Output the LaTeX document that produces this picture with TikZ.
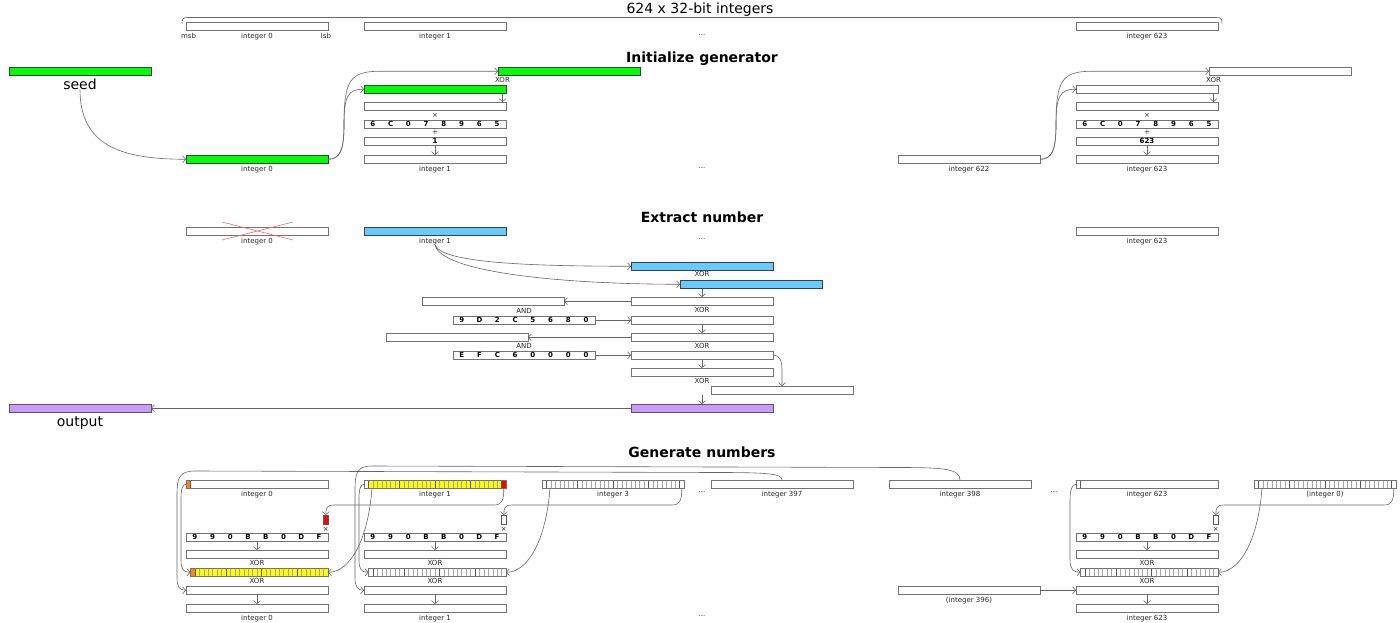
\documentclass[tikz,border=0pt]{standalone}
\usepackage{fontspec}
\setmainfont{DejaVu Sans}
\usetikzlibrary{arrows.meta}
\definecolor{cgreen}{RGB}{0,255,0}
\definecolor{cblue}{RGB}{102,204,255}
\definecolor{cpurple}{RGB}{204,153,255}
\definecolor{cyellow}{RGB}{255,255,0}
\definecolor{corange}{RGB}{255,136,0}
\definecolor{cred}{RGB}{255,0,0}
\newcommand\hexrow[8]{\makebox[17.75pt]{#1}\makebox[17.75pt]{#2}\makebox[17.75pt]{#3}\makebox[17.75pt]{#4}\makebox[17.75pt]{#5}\makebox[17.75pt]{#6}\makebox[17.75pt]{#7}\makebox[17.75pt]{#8}}
\newcommand\bitrow[4]{%
  \foreach \k in {#3} \draw[bitthin] ({#1+\k*4.4375},#2) -- ({#1+\k*4.4375},{#2+8.5});
  \foreach \k in {#4} \draw[bitmajor] ({#1+\k*4.4375},#2) -- ({#1+\k*4.4375},{#2+8.5});}
\begin{document}
\begin{tikzpicture}[x=1pt,y=-1pt,
  bar/.style={rectangle, draw=black!55, line width=0.7pt, minimum width=142pt, minimum height=8.5pt, inner sep=0pt, outer sep=0pt, anchor=north west},
  gbar/.style={bar, draw=black!75, fill=cgreen},
  bbar/.style={bar, draw=black!75, fill=cblue},
  pbar/.style={bar, draw=black!65, fill=cpurple},
  sbar/.style={bar, minimum width=137.5625pt},
  hexbar/.style={bar, font=\fontsize{7}{8}\selectfont\bfseries},
  bitbox/.style={rectangle, draw=black!65, line width=0.6pt, minimum width=4.4375pt, minimum height=9pt, inner sep=0pt, outer sep=0pt, anchor=north east},
  lbl/.style={font=\fontsize{7}{8}\selectfont, inner sep=0pt, anchor=base, text=black!85},
  big/.style={font=\fontsize{14}{16}\selectfont, inner sep=0pt, anchor=base},
  ttl/.style={font=\fontsize{14}{16}\selectfont\bfseries, inner sep=0pt, anchor=base},
  arr/.style={draw=black!60, line width=0.6pt, -{Straight Barb[length=3pt,width=7pt]}},
  bitthin/.style={draw=black!35, line width=0.35pt},
  bitmajor/.style={draw=black!65, line width=0.6pt},
  brace/.style={draw=black!60, line width=0.6pt},
  cross/.style={draw=red!60, line width=0.6pt}]
\useasboundingbox (0,0) rectangle (1400,622);

% ---------------- top: memory layout
\node[big] (ttop) at (700,13) {624 x 32-bit integers};
\draw[brace] (182,23.5) .. controls (182,18.5) and (183,17.5) .. (188,17.5) -- (1216,17.5) .. controls (1221,17.5) and (1222,18.5) .. (1222,23.5);
\node[bar] (t0) at (186,22) {};
\node[bar] (t1) at (364,22) {};
\node[bar] (t623) at (1076,22) {};
\node[lbl] (t0l) at (257,38) {integer 0};
\node[lbl] (msb) at (188.5,38) {msb};
\node[lbl] (lsb) at (326,38) {lsb};
\node[lbl] (t1l) at (435,38) {integer 1};
\node[lbl] (tdots) at (702,35) {...};
\node[lbl] (t623l) at (1147,38) {integer 623};

% ---------------- initialize generator
\node[ttl] (tinit) at (702,62) {Initialize generator};
\node[gbar] (seed) at (9,67) {};
\node[big] (seedl) at (80,89) {seed};
\node[gbar] (xorL) at (498,67) {};
\node[lbl] (xorLl) at (502.5,82) {XOR};
\node[gbar] (g1) at (364,85) {};
\node[bar] (g2) at (364,102) {};
\node[lbl] (mulL) at (435,117.5) {×};
\node[hexbar] (cL) at (364,120) {\hexrow6C078965};
\node[lbl] (addL) at (435,134.5) {+};
\node[hexbar] (oneL) at (364,137) {1};
\node[bar] (i1) at (364,155) {};
\node[lbl] (i1l) at (435,171) {integer 1};
\node[gbar] (i0) at (186,155) {};
\node[lbl] (i0l) at (257,171) {integer 0};
\node[lbl] (idots) at (702,168) {...};
\node[bar] (i622) at (898,155) {};
\node[lbl] (i622l) at (969,171) {integer 622};
\node[bar] (xorR) at (1209,67) {};
\node[lbl] (xorRl) at (1213.5,82) {XOR};
\node[bar] (r1) at (1076,85) {};
\node[bar] (r2) at (1076,102) {};
\node[lbl] (mulR) at (1147,117.5) {×};
\node[hexbar] (rc) at (1076,120) {\hexrow6C078965};
\node[lbl] (addR) at (1147,134.5) {+};
\node[hexbar] (r623) at (1076,137) {623};
\node[bar] (ri) at (1076,155) {};
\node[lbl] (ril) at (1147,171) {integer 623};

\draw[arr] (seedl.south) .. controls (80,145) and (120,159.25) .. (i0.west);
\draw[arr] (i0.east) .. controls (340,159.25) and (344,150) .. (344,125) .. controls (344,96) and (348,89.25) .. (g1.west);
\draw[arr] (i0.east) .. controls (340,159.25) and (344,150) .. (344,125) .. controls (344,80) and (350,71.25) .. (380,71.25) -- (xorL.west);
\draw[arr] (g1.south -| xorLl.south) -- (g2.north -| xorLl.south);
\draw[arr] (oneL.south) -- (i1.north);
\draw[arr] (i622.east) .. controls (1052,159.25) and (1056,150) .. (1056,125) .. controls (1056,96) and (1060,89.25) .. (r1.west);
\draw[arr] (i622.east) .. controls (1052,159.25) and (1056,150) .. (1056,125) .. controls (1056,80) and (1062,71.25) .. (1092,71.25) -- (xorR.west);
\draw[arr] (r1.south -| xorRl.south) -- (r2.north -| xorRl.south);
\draw[arr] (r623.south) -- (ri.north);

% ---------------- extract number
\node[ttl] (textr) at (702,222) {Extract number};
\node[bar] (e0) at (186,227) {};
\node[lbl] (e0l) at (257,243) {integer 0};
\draw[cross] (222,222) -- (293,240) (222,240) -- (293,222);
\node[bbar] (e1) at (364,227) {};
\node[lbl] (e1l) at (435,243) {integer 1};
\node[lbl] (edots) at (702,239) {...};
\node[bar] (e623) at (1076,227) {};
\node[lbl] (e623l) at (1147,243) {integer 623};
\node[bbar] (b1) at (631,262) {};
\node[lbl] (x1) at (702,276.5) {XOR};
\node[bbar] (b2) at (680,280) {};
\node[bar] (s1) at (631,297) {};
\node[bar] (a1) at (422,297) {};
\node[lbl] (and1) at (524,313.5) {AND};
\node[lbl] (x2) at (702,312.5) {XOR};
\node[hexbar] (c1) at (453,316) {\hexrow9D2C5680};
\node[bar] (s2) at (631,316) {};
\node[bar] (s3) at (631,333) {};
\node[bar] (a2) at (386,333) {};
\node[lbl] (and2) at (524,348.5) {AND};
\node[lbl] (x3) at (702,348.5) {XOR};
\node[hexbar] (c2) at (453,351) {\hexrow EFC60000};
\node[bar] (s4) at (631,351) {};
\node[bar] (s5) at (631,368) {};
\node[lbl] (x4) at (702,383.5) {XOR};
\node[bar] (sh) at (711,386) {};
\node[pbar] (po) at (631,404) {};
\node[pbar] (outp) at (9,404) {};
\node[big] (outl) at (80,426) {output};

\draw[arr] (e1l.south) .. controls (440,262) and (520,266.25) .. (b1.west);
\draw[arr] (e1l.south) .. controls (440,272) and (560,284.25) .. (b2.west);
\draw[arr] (b2.south -| s1.north) -- (s1.north);
\draw[arr] (s1.west) -- (a1.east);
\draw[arr] (c1.east) -- (s2.west);
\draw[arr] (s2.south) -- (s3.north);
\draw[arr] (s3.west) -- (a2.east);
\draw[arr] (c2.east) -- (s4.west);
\draw[arr] (s4.south) -- (s5.north);
\draw[arr] (s4.east) .. controls (781,355.25) and (782,362) .. (782,372) -- (sh.north);
\draw[arr] (sh.south -| po.north) -- (po.north);
\draw[arr] (po.west) -- (outp.east);

% ---------------- generate numbers
\node[ttl] (tgen) at (702,457) {Generate numbers};
% fills and bit lines
\fill[corange] (186,480) rectangle (190.4375,488.5);
\bitrow{186}{480}{}{1}
\fill[cyellow] (368.4375,480) rectangle (501.5625,488.5);
\fill[cred] (501.5625,480) rectangle (506,488.5);
\bitrow{364}{480}{2,...,30}{1,8,16,24,31}
\bitrow{542}{480}{2,...,30}{1,8,16,24,31}
\bitrow{1076}{480}{}{1}
\bitrow{1254}{480}{2,...,30}{1,8,16,24,31}
\fill[corange] (190.4375,568) rectangle (194.875,576.5);
\fill[cyellow] (194.875,568) rectangle (328,576.5);
\bitrow{186}{568}{3,...,31}{2,9,17,25}
\bitrow{364}{568}{3,...,31}{2,9,17,25}
\bitrow{1076}{568}{3,...,31}{2,9,17,25}

\node[bar] (G0) at (186,480) {};
\node[lbl] (G0l) at (257,496) {integer 0};
\node[bar] (G1) at (364,480) {};
\node[lbl] (G1l) at (435,496) {integer 1};
\node[bar] (G3) at (542,480) {};
\node[lbl] (G3l) at (613,496) {integer 3};
\node[lbl] (gdots1) at (702,492) {...};
\node[bar] (G397) at (711,480) {};
\node[lbl] (G397l) at (782,496) {integer 397};
\node[bar] (G398) at (889,480) {};
\node[lbl] (G398l) at (960,496) {integer 398};
\node[lbl] (gdots2) at (1054,492) {...};
\node[bar] (G623) at (1076,480) {};
\node[lbl] (G623l) at (1147,496) {integer 623};
\node[bar] (G0b) at (1254,480) {};
\node[lbl] (G0bl) at (1325,496) {(integer 0)};

\node[bitbox, fill=cred] (mA) at (328,515) {};
\node[bitbox] (mB) at (506,515) {};
\node[bitbox] (mR) at (1218,515) {};
\node[lbl] (mAl) at (325.8,531.5) {×};
\node[lbl] (mBl) at (503.8,531.5) {×};
\node[lbl] (mRl) at (1215.8,531.5) {×};
\node[hexbar] (kA) at (186,533) {\hexrow990BB0DF};
\node[hexbar] (kB) at (364,533) {\hexrow990BB0DF};
\node[hexbar] (kR) at (1076,533) {\hexrow990BB0DF};
\node[bar] (pA) at (186,550) {};
\node[bar] (pB) at (364,550) {};
\node[bar] (pR) at (1076,550) {};
\node[lbl] (xA1) at (257,565.5) {XOR};
\node[lbl] (xB1) at (435,565.5) {XOR};
\node[lbl] (xR1) at (1147,565.5) {XOR};
\node[sbar] (cA) at (190.4375,568) {};
\node[sbar] (cB) at (368.4375,568) {};
\node[sbar] (cR) at (1080.4375,568) {};
\node[lbl] (xA2) at (257,583.5) {XOR};
\node[lbl] (xB2) at (435,583.5) {XOR};
\node[lbl] (xR2) at (1147,583.5) {XOR};
\node[bar] (qA) at (186,586) {};
\node[bar] (qB) at (364,586) {};
\node[bar] (qR) at (1076,586) {};
\node[bar] (i396) at (898,586) {};
\node[lbl] (i396l) at (969,602) {(integer 396)};
\node[bar] (fA) at (186,604) {};
\node[bar] (fB) at (364,604) {};
\node[bar] (fR) at (1076,604) {};
\node[lbl] (fAl) at (257,620) {integer 0};
\node[lbl] (fBl) at (435,620) {integer 1};
\node[lbl] (gdots3) at (702,616) {...};
\node[lbl] (fRl) at (1147,620) {integer 623};

% lsb to multiplier selector
\draw[arr] ([xshift=-2.2pt]G1.south east) .. controls (503.8,500) and (502,505) .. (494,505) -- (334,505) .. controls (327,505) and (325.8,508) .. (mA.north);
\draw[arr] ([xshift=-2.2pt]G3.south east) .. controls (681.8,500) and (680,505) .. (672,505) -- (512,505) .. controls (505,505) and (503.8,508) .. (mB.north);
\draw[arr] ([xshift=-2.2pt]G0b.south east) .. controls (1393.8,500) and (1392,505) .. (1384,505) -- (1224,505) .. controls (1217,505) and (1215.8,508) .. (mR.north);
% down arrows
\draw[arr] (kA.south) -- (pA.north);
\draw[arr] (kB.south) -- (pB.north);
\draw[arr] (kR.south) -- (pR.north);
\draw[arr] (qA.south) -- (fA.north);
\draw[arr] (qB.south) -- (fB.north);
\draw[arr] (qR.south) -- (fR.north);
% msb paths
\draw[arr] (G0.west) .. controls (182,484.25) and (181,490) .. (181,500) -- (181,560) .. controls (181,570) and (184,572.25) .. (cA.west);
\draw[arr] (G1.west) .. controls (360,484.25) and (359,490) .. (359,500) -- (359,560) .. controls (359,570) and (362,572.25) .. (cB.west);
\draw[arr] (G623.west) .. controls (1072,484.25) and (1070,490) .. (1070,500) -- (1070,560) .. controls (1070,570) and (1074,572.25) .. (cR.west);
% lower bits paths
\draw[arr] (372,488.5) .. controls (368,540) and (350,572.25) .. (cA.east);
\draw[arr] (550,488.5) .. controls (546,540) and (528,572.25) .. (cB.east);
\draw[arr] (1262,488.5) .. controls (1258,540) and (1240,572.25) .. (cR.east);
% +397 paths
\draw[arr] (G397.north) .. controls (782,474) and (770,472.5) .. (720,472.5) -- (195,471) .. controls (179,471) and (177,478) .. (177,495) -- (177,578) .. controls (177,587) and (180,590.25) .. (qA.west);
\draw[arr] (G398.north) .. controls (960,469) and (945,467.5) .. (900,467.5) -- (372,466) .. controls (357,466) and (355,473) .. (355,490) -- (355,578) .. controls (355,587) and (358,590.25) .. (qB.west);
\draw[arr] (i396.east) -- (qR.west);
\end{tikzpicture}
\end{document}
